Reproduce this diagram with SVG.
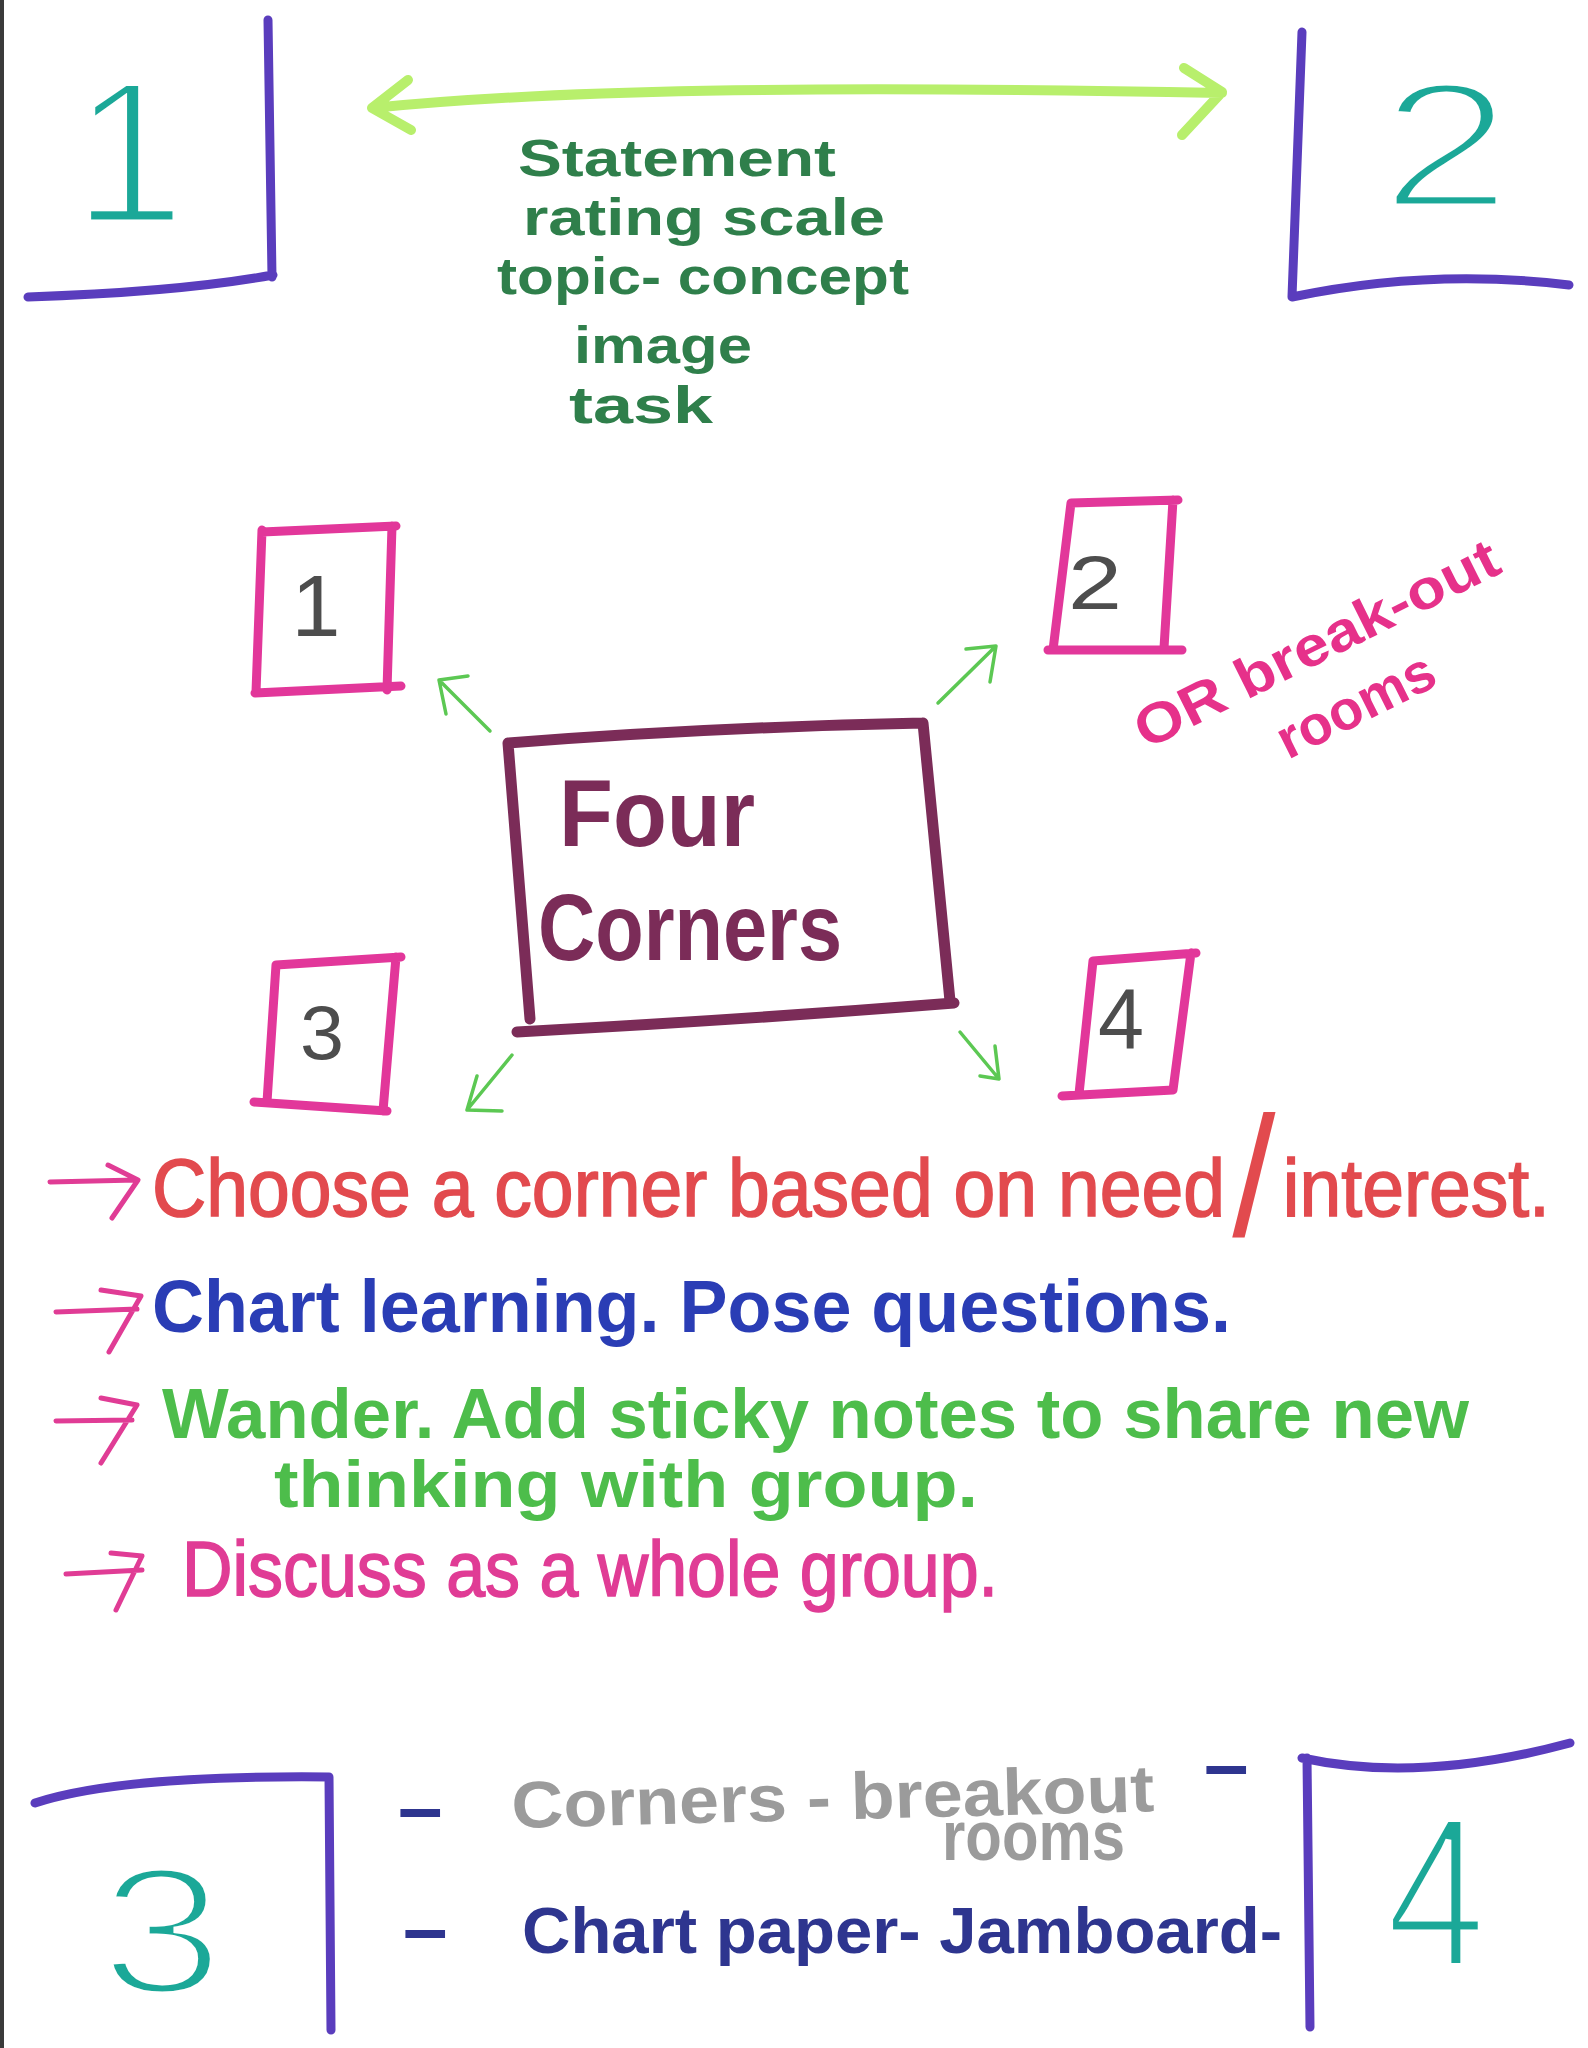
<svg xmlns="http://www.w3.org/2000/svg" width="1588" height="2048" viewBox="0 0 1588 2048">
<style>
.pen{fill:none;stroke-linecap:round;stroke-linejoin:round}
.purple{stroke:#5a3dbd;stroke-width:9}
.pinkbox{stroke:#e2379a;stroke-width:9}
.maroon{stroke:#7b2c58;stroke-width:11}
.lg{stroke:#b8ef6c;stroke-width:10}
.sg{stroke:#5cc853;stroke-width:3.5}
.pa{stroke:#e03c95;stroke-width:5}
.t{font-family:"Liberation Sans",Arial,sans-serif}
.num{font-family:"Liberation Sans",Arial,sans-serif;fill:#1ba898;stroke:#ffffff;stroke-width:7}
.gnum{font-family:"Liberation Sans",Arial,sans-serif;fill:#4d4d4d}
.mk{stroke-width:1.6}
</style>
<rect width="1588" height="2048" fill="#ffffff"/>
<rect x="0" y="0" width="4" height="2048" fill="#3a3a3a"/>

<g id="corner1">
<path class="pen purple" d="M268,20 L272,277 M28,297 Q180,292 273,275"/>
<text class="num" x="129" y="223" font-size="205" text-anchor="middle">1</text>
</g>
<g id="corner2">
<path class="pen purple" d="M1302,32 L1292,297 Q1430,268 1569,285"/>
<text class="num" x="1380" y="207" font-size="178" textLength="132" lengthAdjust="spacingAndGlyphs">2</text>
</g>
<g id="corner3">
<path class="pen purple" d="M35,1803 Q120,1775 329,1777 M329,1777 L331,2030"/>
<text class="num" x="100" y="1993" font-size="180" textLength="124" lengthAdjust="spacingAndGlyphs">3</text>
</g>
<g id="corner4">
<path class="pen purple" d="M1302,1758 C1380,1775 1470,1770 1570,1743 M1307,1758 L1310,2027"/>
<text class="num" x="1386" y="1967" font-size="215" textLength="100" lengthAdjust="spacingAndGlyphs">4</text>
</g>

<g id="prompt-list" class="t" fill="#2f7f4b" font-size="52" font-weight="bold">
<text x="518" y="176" textLength="318" lengthAdjust="spacingAndGlyphs">Statement</text>
<text x="523" y="235" textLength="362" lengthAdjust="spacingAndGlyphs">rating scale</text>
<text x="497" y="294" textLength="412" lengthAdjust="spacingAndGlyphs">topic- concept</text>
<text x="574" y="363" textLength="178" lengthAdjust="spacingAndGlyphs">image</text>
<text x="569" y="423" textLength="144" lengthAdjust="spacingAndGlyphs">task</text>
</g>

<g id="center">
<path class="pen maroon" d="M508,743 Q715,727 923,723 M923,723 L950,1001 M517,1032 Q740,1020 954,1003 M508,743 L530,1019"/>
<text class="t" x="559" y="846" font-size="94" fill="#7b2c58" font-weight="bold" textLength="196" lengthAdjust="spacingAndGlyphs">Four</text>
<text class="t" x="538" y="960" font-size="94" fill="#7b2c58" font-weight="bold" textLength="304" lengthAdjust="spacingAndGlyphs">Corners</text>
</g>

<g id="box1">
<path class="pen pinkbox" d="M262,532 L396,526 M392,526 L387,690 M255,693 L401,686 M262,530 L256,692"/>
<text class="gnum" x="316" y="636" font-size="88" text-anchor="middle">1</text>
</g>
<g id="box2">
<path class="pen pinkbox" d="M1071,503 L1178,500 M1173,500 L1164,648 M1048,650 L1182,650 M1071,503 L1053,650"/>
<text class="gnum" x="1068" y="609" font-size="76" textLength="54" lengthAdjust="spacingAndGlyphs">2</text>
</g>
<g id="box3">
<path class="pen pinkbox" d="M276,965 L401,957 M396,957 L383,1111 M254,1102 L387,1111 M276,965 L267,1102"/>
<text class="gnum" x="300" y="1059" font-size="76" textLength="44" lengthAdjust="spacingAndGlyphs">3</text>
</g>
<g id="box4">
<path class="pen pinkbox" d="M1093,961 L1196,953 M1191,953 L1173,1090 M1062,1096 L1173,1090 M1093,961 L1079,1094"/>
<text class="gnum" x="1098" y="1048" font-size="86" textLength="46" lengthAdjust="spacingAndGlyphs">4</text>
</g>

<g id="breakout-note" class="t" fill="#e6318a" font-size="56" font-weight="bold">
<text x="1146" y="750" transform="rotate(-26.5 1146 750)" textLength="400" lengthAdjust="spacingAndGlyphs">OR break-out</text>
<text x="1288" y="760" transform="rotate(-26.5 1288 760)" textLength="170" lengthAdjust="spacingAndGlyphs">rooms</text>
</g>

<g id="connectors">
<path class="pen lg" d="M372,108 C550,90 800,85 1222,93 M408,80 L372,108 L411,130 M1184,68 L1222,92 L1182,135"/>
<path class="pen sg" d="M490,731 L439,680 M468,676 L439,680 L446,714"/>
<path class="pen sg" d="M938,703 L996,646 M966,649 L996,646 L990,682"/>
<path class="pen sg" d="M512,1055 L467,1110 M477,1076 L467,1110 L502,1111"/>
<path class="pen sg" d="M960,1032 L999,1079 M995,1046 L999,1079 L980,1076"/>
<path class="pen pa" d="M50,1182 L136,1180 M108,1165 L138,1180 L112,1218"/>
<path class="pen pa" d="M56,1312 L137,1309 M101,1290 L141,1296 L109,1352"/>
<path class="pen pa" d="M56,1421 L132,1420 M101,1398 L137,1405 L101,1463"/>
<path class="pen pa" d="M66,1574 L142,1570 M111,1553 L142,1556 L116,1610"/>
</g>

<g id="steps" class="t">
<text class="mk" x="152" y="1216" font-size="82" fill="#e24a4e" stroke="#e24a4e" textLength="1398" lengthAdjust="spacingAndGlyphs">Choose a corner based on need<tspan font-size="170" dx="8" dy="20" stroke-width="0">/</tspan><tspan dx="8" dy="-20">interest.</tspan></text>
<text x="152" y="1332" font-size="74" fill="#2a3db5" font-weight="bold" textLength="1079" lengthAdjust="spacingAndGlyphs">Chart learning. Pose questions.</text>
<text x="162" y="1438" font-size="70" fill="#4dbd4b" font-weight="bold" textLength="1307" lengthAdjust="spacingAndGlyphs">Wander. Add sticky notes to share new</text>
<text x="274" y="1507" font-size="66" fill="#4dbd4b" font-weight="bold" textLength="704" lengthAdjust="spacingAndGlyphs">thinking with group.</text>
<text class="mk" x="182" y="1596" font-size="78" fill="#e03c95" stroke="#e03c95" textLength="816" lengthAdjust="spacingAndGlyphs">Discuss as a whole group.</text>
</g>

<g id="tools" class="t">
<text x="398" y="1834" font-size="80" font-weight="bold" fill="#2e358f">–</text>
<text x="512" y="1828" font-size="66" font-weight="bold" fill="#9b9b9b" transform="rotate(-1.5 512 1828)" textLength="643" lengthAdjust="spacingAndGlyphs">Corners - breakout</text>
<text x="1204" y="1791" font-size="80" font-weight="bold" fill="#2e358f">–</text>
<text x="942" y="1860" font-size="70" font-weight="bold" fill="#9b9b9b" textLength="183" lengthAdjust="spacingAndGlyphs">rooms</text>
<text x="403" y="1955" font-size="80" font-weight="bold" fill="#2e358f">–</text>
<text x="522" y="1953" font-size="64" font-weight="bold" fill="#2e358f" textLength="760" lengthAdjust="spacingAndGlyphs">Chart paper- Jamboard-</text>
</g>
</svg>
